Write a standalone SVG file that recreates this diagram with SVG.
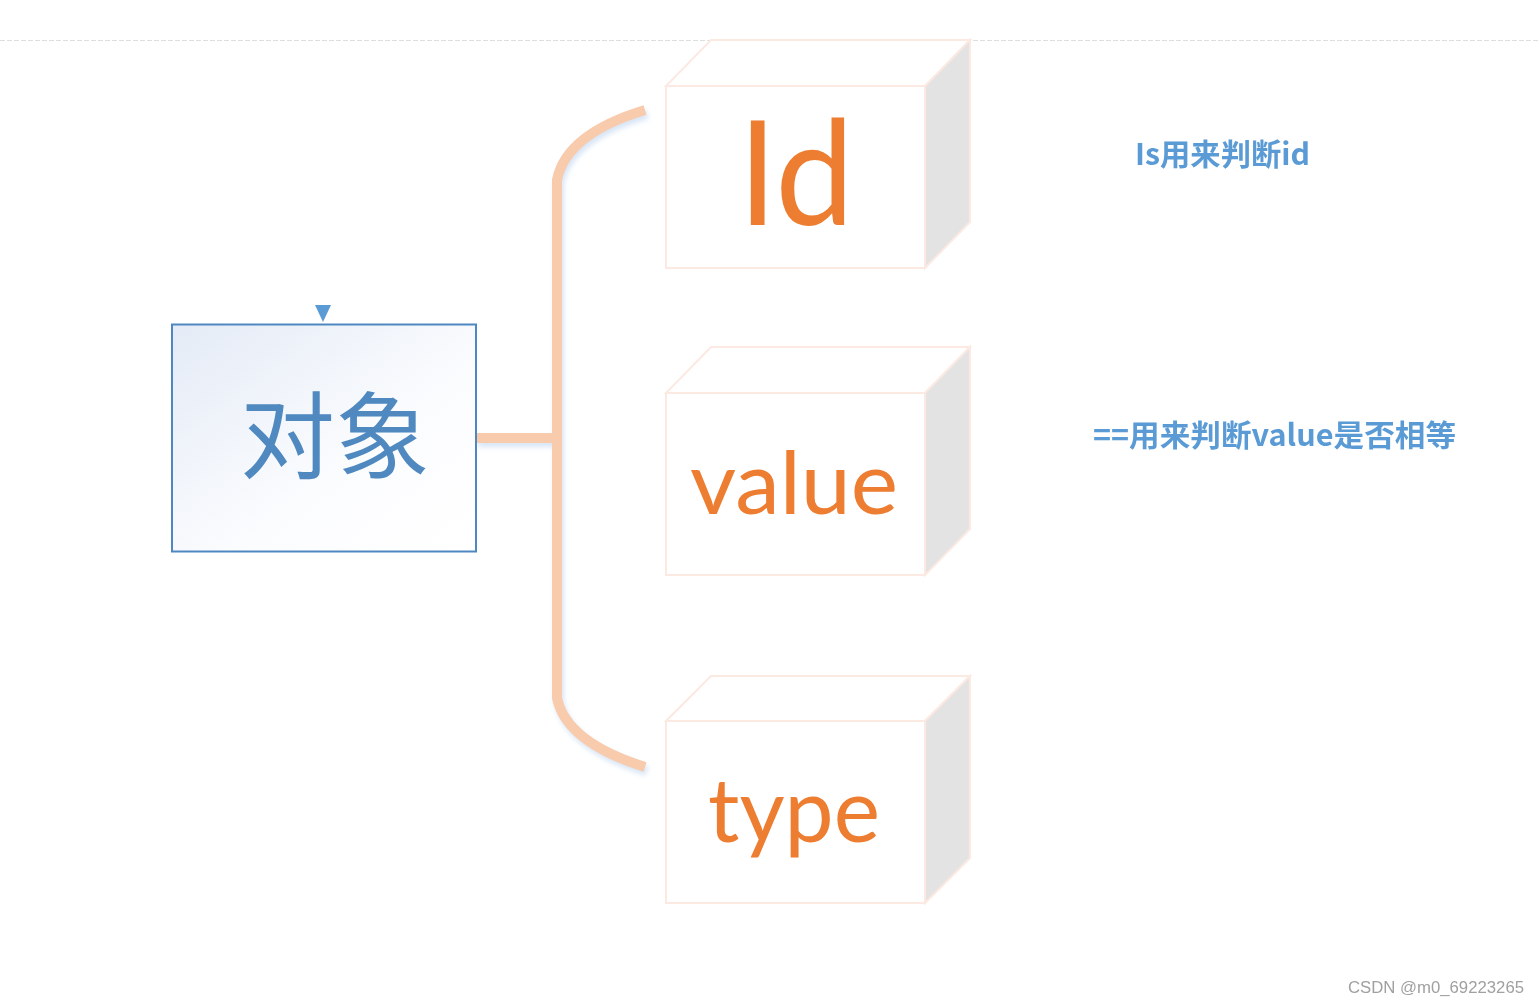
<svg xmlns="http://www.w3.org/2000/svg" width="1539" height="1005" viewBox="0 0 1539 1005">
<defs>
<linearGradient id="objGrad" x1="0" y1="0" x2="1" y2="1">
<stop offset="0" stop-color="#e4ebf6"/>
<stop offset="0.6" stop-color="#fbfcfe"/>
<stop offset="1" stop-color="#ffffff"/>
</linearGradient>
<filter id="shadow" x="-20%" y="-20%" width="140%" height="140%">
<feGaussianBlur stdDeviation="2.5"/>
</filter>
</defs>
<style>
.face{fill:#ffffff;stroke:#fbe9e2;stroke-width:2}
.side{fill:#e3e3e3;stroke:#fbe9e2;stroke-width:2}
.cubeText{font-family:Lato,"Open Sans",sans-serif;fill:#ed7d31;text-anchor:middle}
.note{font-family:"Noto Sans CJK SC","Noto Sans",sans-serif;font-weight:bold;fill:#5b9bd5;font-size:30px}
.bracket{fill:none;stroke:#f8cbad;stroke-width:10}
.bracketShadow{fill:none;stroke:#c9dcf2;stroke-width:10;opacity:0.7}
</style>
<rect x="0" y="0" width="1539" height="1005" fill="#ffffff"/>
<line x1="0" y1="40.5" x2="1539" y2="40.5" stroke="#dedede" stroke-width="1" stroke-dasharray="5 2"/>

<g id="connectors">
<g filter="url(#shadow)" transform="translate(2,4)">
<path class="bracketShadow" d="M476 438 H557"/>
<path class="bracketShadow" d="M645 110 Q566 134 557 180 V698 Q566 742 645 767"/>
</g>
<path class="bracket" d="M476 438 H557"/>
<path class="bracket" d="M645 110 Q566 134 557 180 V698 Q566 742 645 767"/>
</g>

<g id="node-object">
<rect x="172" y="324.5" width="304" height="227" fill="url(#objGrad)" stroke="#4f87c0" stroke-width="2"/>
<polygon points="315,305 331,305 323,322" fill="#5b9bd5"/>
<text x="335" y="472" font-family="'Noto Sans CJK SC',sans-serif" font-size="95" fill="#4f89c0" text-anchor="middle">对象</text>
</g>

<g id="node-id">
<polygon class="face" points="666,86 711,40 970,40 925,86"/>
<polygon class="side" points="925,86 970,40 970,222 925,268"/>
<rect class="face" x="666" y="86" width="259" height="182"/>
<text class="cubeText" x="796" y="225" font-size="146" textLength="116" lengthAdjust="spacingAndGlyphs">Id</text>
</g>

<g id="node-value">
<polygon class="face" points="666,393 711,347 970,347 925,393"/>
<polygon class="side" points="925,393 970,347 970,529 925,575"/>
<rect class="face" x="666" y="393" width="259" height="182"/>
<text class="cubeText" x="794" y="514" font-size="88" textLength="208" lengthAdjust="spacingAndGlyphs">value</text>
</g>

<g id="node-type">
<polygon class="face" points="666,721 711,676 970,676 925,721"/>
<polygon class="side" points="925,721 970,676 970,858 925,903"/>
<rect class="face" x="666" y="721" width="259" height="182"/>
<text class="cubeText" x="794" y="842" font-size="89" textLength="172" lengthAdjust="spacingAndGlyphs">type</text>
</g>

<g id="note-id">
<text class="note" x="1135" y="165" textLength="175" lengthAdjust="spacingAndGlyphs">Is用来判断id</text>
</g>
<g id="note-value">
<text class="note" x="1093" y="446" textLength="363" lengthAdjust="spacingAndGlyphs">==用来判断value是否相等</text>
</g>

<text x="1348" y="993" font-family="'Liberation Sans',Arial,sans-serif" font-size="16" fill="#a0a0a0" textLength="176" lengthAdjust="spacingAndGlyphs">CSDN @m0_69223265</text>
</svg>
